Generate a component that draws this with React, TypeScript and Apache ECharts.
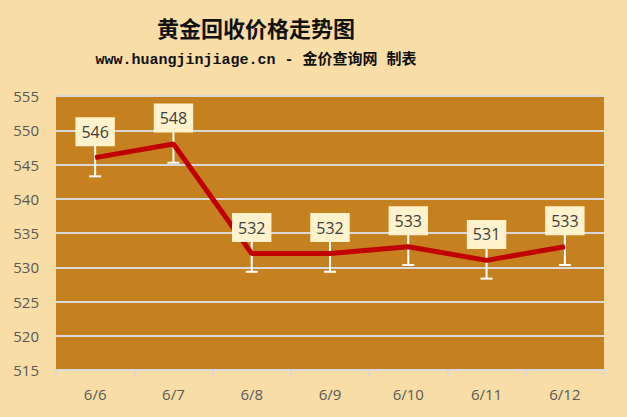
import React, { useEffect, useRef } from "react";
import * as echarts from "echarts";

const categories = ["6/6", "6/7", "6/8", "6/9", "6/10", "6/11", "6/12"];
const prices = [546, 548, 532, 532, 533, 531, 533];
const errors = [2.73, 2.74, 2.66, 2.66, 2.67, 2.66, 2.67];
const yTicks = { min: 515, max: 555, interval: 5 };
const titleText = "黄金回收价格走势图";
const subtitleText = "www.huangjinjiage.cn - 金价查询网 制表";

export default function App() {
  const ref = useRef<HTMLDivElement>(null);
  useEffect(() => {
    const chart = echarts.init(ref.current!, null, { renderer: "svg" });
    const errData = prices.map((v, i) => [i, v - errors[i], v + errors[i]]);
    chart.setOption({
      animation: false,
      backgroundColor: "#F8DEA6",
      graphic: [
        {
          type: "text",
          x: 256,
          y: 27,
          style: {
            text: titleText,
            font: "bold 22px 'Noto Sans CJK SC', serif",
            fill: "#111",
            textAlign: "center",
            textVerticalAlign: "middle",
          },
        },
        {
          type: "text",
          x: 256,
          y: 60,
          style: {
            text: subtitleText,
            font: "bold 15px 'Liberation Mono', 'Noto Sans CJK SC', monospace",
            fill: "#111",
            textAlign: "center",
            textVerticalAlign: "middle",
          },
        },
      ],
      grid: {
        left: 56,
        right: 23,
        top: 96,
        bottom: 47,
        show: true,
        backgroundColor: "#C5811F",
        borderWidth: 0,
      },
      xAxis: {
        type: "category",
        data: categories,
        boundaryGap: true,
        axisLine: { show: true, lineStyle: { color: "#D9D9D9", width: 2 } },
        axisTick: { show: true, length: 6, lineStyle: { color: "#D9D9D9", width: 2 } },
        axisLabel: { color: "#595959", fontSize: 15, margin: 16, fontFamily: "'Open Sans', sans-serif" },
      },
      yAxis: {
        type: "value",
        min: yTicks.min,
        max: yTicks.max,
        interval: yTicks.interval,
        axisLine: { show: false },
        axisTick: { show: false },
        splitLine: { lineStyle: { color: "#D9D9D9", width: 2 } },
        axisLabel: { color: "#595959", fontSize: 15, margin: 17, fontFamily: "'Open Sans', sans-serif" },
      },
      series: [
        {
          type: "custom",
          z: 1,
          data: errData,
          renderItem: (params: any, api: any) => {
            const x = api.coord([api.value(0), api.value(1)])[0];
            const yLow = api.coord([api.value(0), api.value(1)])[1];
            const yHigh = api.coord([api.value(0), api.value(2)])[1];
            const st = { stroke: "#FFFFFF", lineWidth: 2 };
            return {
              type: "group",
              children: [
                { type: "line", shape: { x1: x, y1: yLow, x2: x, y2: yHigh }, style: st },
                { type: "line", shape: { x1: x - 6, y1: yLow, x2: x + 6, y2: yLow }, style: st },
                { type: "line", shape: { x1: x - 6, y1: yHigh, x2: x + 6, y2: yHigh }, style: st },
              ],
            };
          },
        },
        {
          type: "line",
          z: 3,
          data: prices,
          symbol: "circle",
          symbolSize: 1,
          showSymbol: true,
          itemStyle: { color: "#C00000" },
          lineStyle: { color: "#C00000", width: 5 },
          label: {
            show: true,
            position: "top",
            distance: 11,
            color: "#404040",
            fontSize: 16,
            lineHeight: 19,
            fontFamily: "'Open Sans', sans-serif",
            backgroundColor: "#FFF2CC",
            padding: [5, 6, 5, 6],
          },
        },
      ],
    });
    return () => chart.dispose();
  }, []);
  return <div ref={ref} style={{ width: 627, height: 417, position: "absolute", left: 0, top: 0 }} />;
}
